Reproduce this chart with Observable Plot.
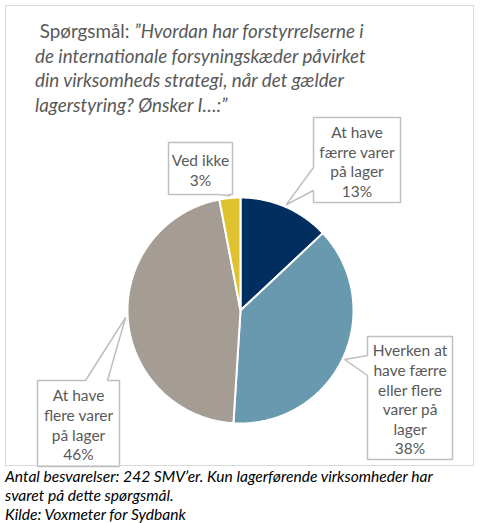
<!DOCTYPE html>
<html>
<head>
<meta charset="utf-8">
<script src="https://cdn.jsdelivr.net/npm/d3@7"></script>
<script src="https://cdn.jsdelivr.net/npm/@observablehq/plot@0.6"></script>
<style>
  body { margin: 0; background: white; font-family: Lato, "Open Sans", sans-serif; }
  #wrap { position: relative; width: 480px; height: 470px; }
  #frame { position: absolute; left: 5px; top: 5px; width: 467px; height: 459px; border: 1.5px solid #d9d9d9; z-index: 3; pointer-events: none; }
  #title { position: absolute; left: 35px; top: 19px; font-size: 18.8px; line-height: 24.5px; color: #595959; white-space: nowrap; z-index: 2; }
  #title .q { font-style: italic; }
  #chart { position: absolute; left: 0; top: 0; }
  #caption { position: absolute; left: 5px; top: 467px; font-size: 15.6px; line-height: 19px; font-style: italic; color: #000; }
</style>
</head>
<body>
<div id="wrap">
  <div id="chart"></div>
  <div id="title">
    <div>&nbsp;Spørgsmål: <span class="q">”Hvordan har forstyrrelserne i</span></div>
    <div class="q">de internationale forsyningskæder påvirket</div>
    <div class="q">din virksomheds strategi, når det gælder</div>
    <div class="q">lagerstyring? Ønsker I…:”</div>
  </div>
  <div id="frame"></div>
</div>
<div id="caption">Antal besvarelser: 242 SMV’er. Kun lagerførende virksomheder har<br>svaret på dette spørgsmål.<br>Kilde: Voxmeter for Sydbank</div>
<script>
const categories = [
  "At have\nfærre varer\npå lager",
  "Hverken at\nhave færre\neller flere\nvarer på\nlager",
  "At have\nflere varer\npå lager",
  "Ved ikke"
];
const shares = [13, 38, 46, 3];
const colors = ["#002e5e", "#6899ae", "#a59c94", "#dfc22f"];

// layout (pixels)
const W = 480, H = 470;
const cx = 240, cy = 310, R = 113;
const boxes = [
  { box: [313, 117, 400, 202], side: "left", base: [167, 190] },
  { box: [367, 336, 452, 459], side: "left", base: [355, 375] },
  { box: [37, 380, 119, 466], side: "top", base: [85, 107] },
  { box: [168, 142, 232, 194], side: "bottom", base: [217, 228] }
];

const arcs = d3.pie().sort(null).value(d => d)(shares);
const pt = (a, r) => [cx + r * Math.sin(a), cy - r * Math.cos(a)];

// slice polygons
const slices = [];
arcs.forEach((a, i) => {
  const label = categories[i];
  slices.push({ label, x: cx, y: cy });
  const n = Math.max(2, Math.ceil((a.endAngle - a.startAngle) / 0.01));
  for (let k = 0; k <= n; k++) {
    const ang = a.startAngle + (a.endAngle - a.startAngle) * k / n;
    const [x, y] = pt(ang, R);
    slices.push({ label, x, y });
  }
});

// callout polygons
const callouts = [];
const texts = [];
arcs.forEach((a, i) => {
  const { box: [x0, y0, x1, y1], side, base: [b0, b1] } = boxes[i];
  const tip = pt((a.startAngle + a.endAngle) / 2, R * 1.02);
  let p;
  if (side === "left") p = [[x0, y0], [x1, y0], [x1, y1], [x0, y1], [x0, b1], tip, [x0, b0]];
  else if (side === "top") p = [[x0, y0], [b0, y0], tip, [b1, y0], [x1, y0], [x1, y1], [x0, y1]];
  else p = [[x0, y0], [x1, y0], [x1, y1], [b1, y1], tip, [b0, y1], [x0, y1]];
  p.forEach(([x, y]) => callouts.push({ id: i, x, y }));
  texts.push({ x: (x0 + x1) / 2, y: (y0 + y1) / 2 + 1, text: categories[i] + "\n" + shares[i] + "%" });
});

const plot = Plot.plot({
  width: W,
  height: H,
  margin: 0,
  style: { background: "transparent", overflow: "visible" },
  x: { domain: [0, W], range: [0, W], axis: null },
  y: { domain: [0, H], range: [0, H], axis: null },
  color: { domain: categories, range: colors },
  marks: [
    Plot.line(slices, { x: "x", y: "y", z: "label", fill: "label", stroke: "white", strokeWidth: 2, curve: "linear-closed" }),
    Plot.line(callouts, { x: "x", y: "y", z: "id", fill: "white", stroke: "#bfbfbf", strokeWidth: 1.5, curve: "linear-closed" }),
    Plot.text(texts, { x: "x", y: "y", text: "text", fill: "#595959", fontSize: 15.5, lineHeight: 1.26, fontFamily: "Lato, 'Open Sans', sans-serif" })
  ]
});
document.querySelector("#chart").append(plot);
</script>
</body>
</html>
